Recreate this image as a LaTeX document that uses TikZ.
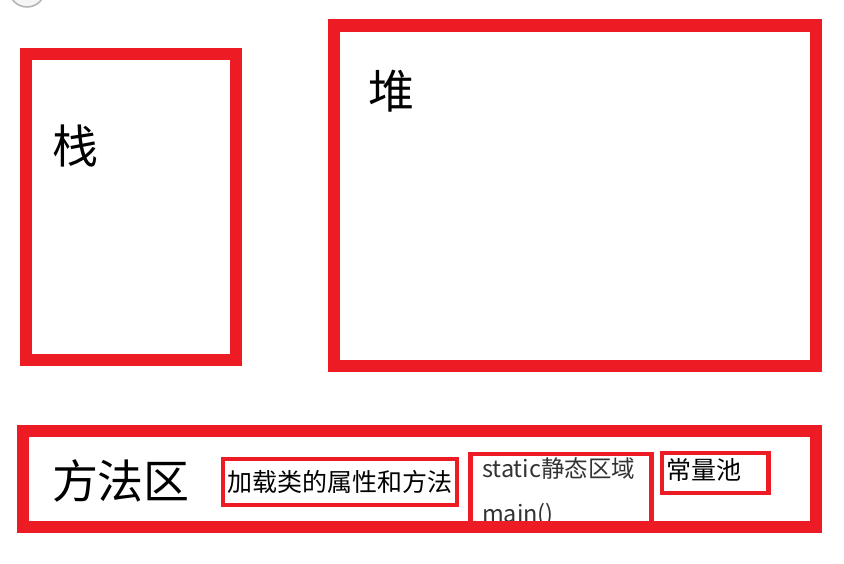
\documentclass[tikz,border=0pt]{standalone}
\usepackage{fontspec}
\setmainfont{Noto Sans CJK SC}
\definecolor{boxred}{HTML}{ED1C24}
\tikzset{
  bigbox/.style={draw=boxred, line width=12.5pt},
  smallbox/.style={draw=boxred, line width=4.5pt},
  bigtext/.style={inner sep=0pt, font=\fontsize{46}{55}\selectfont},
  smalltext/.style={inner sep=0pt, anchor=base west, font=\fontsize{25}{30}\selectfont},
  stattext/.style={inner sep=0pt, anchor=base west, font=\fontsize{23.5}{28}\selectfont, text=black!80},
}
\begin{document}
\begin{tikzpicture}[x=1pt,y=-1pt]
\useasboundingbox[fill=white] (0,0) rectangle (844,564);
% artifact circle at the corner
\begin{scope}
\clip (0,0) rectangle (844,564);
\draw[gray!60, fill=gray!8, line width=1.5pt] (27,-11) circle (18);
\end{scope}
% stack
\draw[bigbox] (26,54) rectangle (236,360);
\node[bigtext] (zhan) at (75,146) {栈};
% heap
\draw[bigbox] (334,25.5) rectangle (816,366);
\node[bigtext] (dui) at (391,91) {堆};
% method area contents
\node[bigtext] (ff) at (121,481) {方法区};
\draw[smallbox] (223,459) rectangle (457,505);
\node[smalltext] (jz) at (227,491) {加载类的属性和方法};
\draw[smallbox] (470.5,454) rectangle (651.5,530);
\node[stattext] (st) at (482,477) {static静态区域};
\node[stattext] (mn) at (482,522) {main()};
\draw[smallbox] (662,453) rectangle (768.5,493);
\node[smalltext] (cl) at (666,479) {常量池};
% method area border on top
\draw[bigbox] (23,431) rectangle (816,527);
\end{tikzpicture}
\end{document}
